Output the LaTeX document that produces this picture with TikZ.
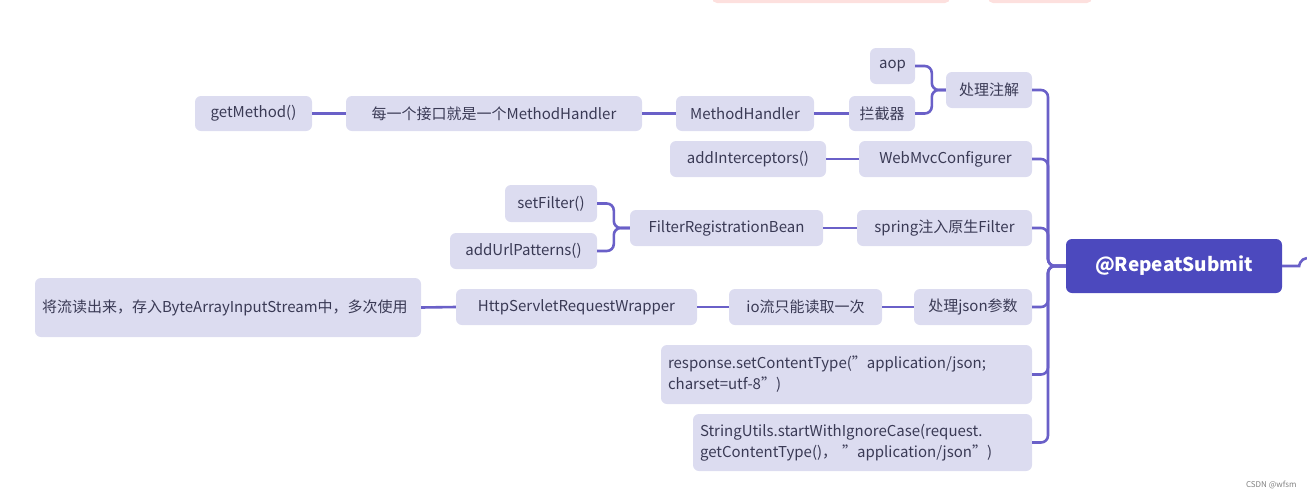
\documentclass[tikz,border=0pt]{standalone}
\usepackage{fontspec}
\setmainfont{Noto Sans CJK SC}
\begin{document}
\begin{tikzpicture}[x=1pt,y=-1pt,
  box/.style={fill=boxc,rounded corners=6pt,text=txt,font=\fontsize{15}{21}\selectfont,inner sep=0pt,anchor=center},
  ln/.style={draw=linec,line width=2.6pt,rounded corners=7pt}]
\definecolor{boxc}{HTML}{DCDCF0}
\definecolor{linec}{HTML}{6A60C8}
\definecolor{txt}{HTML}{3A3A55}
\definecolor{rootc}{HTML}{4C49BE}
\definecolor{pink}{HTML}{FDE0DE}
\useasboundingbox (0,0) rectangle (1307,499);
\fill[pink,rounded corners=5pt] (712,-10) rectangle (950,3);
\fill[pink,rounded corners=5pt] (988,-10) rectangle (1092,3);
\newcommand\bx[6]{\node[box,minimum width=#4,minimum height=#5] (#1) at (#2,#3) {#6};}
\node[box,fill=rootc,text=white,font=\fontsize{19}{23}\selectfont\bfseries,minimum width=216,minimum height=54] (root) at (1174,266) {@RepeatSubmit};
\bx{zj}{989}{90}{86}{36}{处理注解}
\bx{aop}{892.5}{66}{45}{36}{aop}
\bx{ljq}{882}{113.5}{66}{35}{拦截器}
\bx{mh}{745}{113.5}{138}{35}{MethodHandler}
\bx{mg}{494}{113.5}{296}{35}{每一个接口就是一个MethodHandler}
\bx{gm}{253.5}{113.5}{117}{35}{getMethod()}
\bx{wmc}{945.5}{159}{173}{36}{WebMvcConfigurer}
\bx{ai}{748}{159}{156}{36}{addInterceptors()}
\bx{sf}{944.5}{228}{175}{36}{spring注入原生Filter}
\bx{frb}{726.5}{228}{193}{36}{FilterRegistrationBean}
\bx{set}{551}{203.5}{92}{37}{setFilter()}
\bx{aup}{523.5}{251}{147}{36}{addUrlPatterns()}
\bx{json}{973}{307}{118}{36}{处理json参数}
\bx{io}{805.5}{307}{153}{36}{io流只能读取一次}
\bx{hw}{576.5}{307}{241}{36}{HttpServletRequestWrapper}
\node[box,minimum width=386,minimum height=59,text width=372,align=left] (rd) at (228,307.5) {将流读出来，存入ByteArrayInputStream中，多次使用};
\node[box,minimum width=371,minimum height=59,text width=357,align=left] (resp) at (846.5,374.5) {response.setContentType("application/json;\\charset=utf-8")};
\node[box,minimum width=339,minimum height=57,text width=325,align=left] (su) at (862.5,442.5) {StringUtils.startWithIgnoreCase(request.\\getContentType()， "application/json")};
\coordinate (out) at (1307,258);
\draw[ln] (root.east) -- ++(10,0) to[out=0,in=185] (out);
\foreach \c in {zj,wmc,sf,json,resp,su}{\draw[ln] (root.west) -- (1048,266) |- (\c.east);}
\draw[ln] (zj.west) -- ++(-14,0) |- (aop.east);
\draw[ln] (zj.west) -- ++(-14,0) |- (ljq.east);
\draw[ln] (frb.west) -- ++(-16,0) |- (set.east);
\draw[ln] (frb.west) -- ++(-16,0) |- (aup.east);
\draw[ln] (ljq.west) -- (mh.east);
\draw[ln] (mh.west) -- (mg.east);
\draw[ln] (mg.west) -- (gm.east);
\draw[ln] (wmc.west) -- (ai.east);
\draw[ln] (sf.west) -- (frb.east);
\draw[ln] (json.west) -- (io.east);
\draw[ln] (io.west) -- (hw.east);
\draw[ln] (hw.west) -- (rd.east);
\node[font=\fontsize{8}{9}\selectfont,text=gray,anchor=south east] (csdn) at (1300,492) {CSDN @wfsm};
\end{tikzpicture}
\end{document}
